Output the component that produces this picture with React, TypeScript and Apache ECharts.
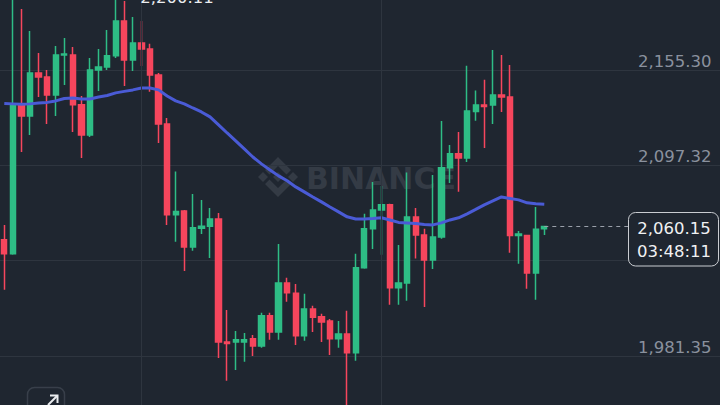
import React, { useEffect, useRef } from "react";
import * as echarts from "echarts";

const BG = "#1f2630";
const UP = "#2ebd85";
const DOWN = "#f6465d";
const GRIDLINE = "#2e353f";
const FONT = "'DejaVu Sans', Inter, sans-serif";

// [open, close, low, high]
const candles: number[][] = [
  [2052.0, 2043.5, 2021.6, 2061.1],
  [2043.5, 2134.1, 2043.0, 2210.0],
  [2134.1, 2127.4, 2105.5, 2192.4],
  [2127.4, 2153.5, 2115.8, 2179.1],
  [2153.5, 2151.1, 2138.9, 2165.7],
  [2151.1, 2140.1, 2122.5, 2155.3],
  [2140.1, 2164.5, 2127.4, 2169.9],
  [2164.5, 2165.1, 2146.2, 2174.8],
  [2164.5, 2134.1, 2117.6, 2169.3],
  [2134.1, 2115.8, 2101.8, 2139.5],
  [2115.8, 2155.3, 2114.6, 2162.6],
  [2155.3, 2157.2, 2142.6, 2168.1],
  [2157.2, 2163.9, 2155.3, 2179.7],
  [2163.9, 2185.1, 2162.6, 2200.1],
  [2185.1, 2161.4, 2145.6, 2197.3],
  [2161.4, 2171.8, 2154.7, 2187.6],
  [2171.8, 2168.1, 2157.8, 2185.1],
  [2168.1, 2152.3, 2142.0, 2171.2],
  [2152.3, 2122.5, 2110.9, 2153.5],
  [2122.5, 2067.2, 2061.1, 2126.1],
  [2067.2, 2069.2, 2050.8, 2093.6],
  [2069.6, 2047.7, 2033.1, 2070.2],
  [2047.7, 2059.3, 2045.3, 2079.9],
  [2059.0, 2060.2, 2055.6, 2076.3],
  [2060.2, 2064.7, 2041.0, 2071.4],
  [2064.7, 1989.9, 1980.2, 2068.4],
  [1989.9, 1989.0, 1966.3, 2009.4],
  [1989.9, 1991.2, 1972.9, 1996.6],
  [1989.9, 1991.2, 1977.8, 1995.4],
  [1991.8, 1987.5, 1981.4, 1994.2],
  [1987.5, 2005.8, 1986.3, 2007.6],
  [2005.8, 1996.0, 1991.2, 2007.6],
  [1996.0, 2025.8, 1991.2, 2049.5],
  [2025.8, 2019.8, 2014.3, 2028.9],
  [2019.5, 1993.6, 1988.1, 2025.2],
  [1993.6, 2010.0, 1990.6, 2019.2],
  [2010.0, 2004.9, 1996.0, 2011.9],
  [2005.2, 2002.1, 1989.9, 2007.0],
  [2002.7, 1991.8, 1982.0, 2003.9],
  [1991.8, 1994.8, 1986.3, 2002.7],
  [1994.8, 1983.3, 1948.6, 2008.8],
  [1983.3, 2035.0, 1978.4, 2043.5],
  [2035.0, 2058.7, 2034.4, 2067.8],
  [2058.7, 2070.2, 2046.5, 2087.2],
  [2070.2, 2073.3, 2042.9, 2084.8],
  [2073.3, 2022.8, 2012.5, 2073.9],
  [2022.8, 2025.8, 2012.5, 2048.9],
  [2025.8, 2065.9, 2015.0, 2092.9],
  [2065.9, 2055.0, 2040.6, 2071.4],
  [2055.0, 2039.8, 2011.2, 2058.7],
  [2039.8, 2053.8, 2034.3, 2091.5],
  [2053.8, 2095.8, 2052.6, 2124.3],
  [2095.8, 2104.3, 2086.6, 2109.7],
  [2104.3, 2101.8, 2081.2, 2117.6],
  [2101.8, 2130.4, 2099.4, 2157.9],
  [2130.1, 2134.0, 2124.5, 2142.8],
  [2134.0, 2133.1, 2107.9, 2149.3],
  [2134.0, 2140.1, 2122.5, 2167.5],
  [2140.1, 2138.9, 2129.8, 2164.5],
  [2138.9, 2054.7, 2044.1, 2158.4],
  [2054.7, 2055.6, 2037.4, 2057.4],
  [2054.7, 2031.9, 2022.2, 2055.0],
  [2031.9, 2058.4, 2015.5, 2072.0],
  [2058.7, 2060.15, 2055.0, 2060.15],
];

const maLine: number[] = [
  2135.0, 2134.7, 2134.4, 2134.7, 2135.3, 2135.6, 2136.5, 2138.0, 2138.3, 2137.7,
  2137.7, 2138.9, 2139.8, 2141.4, 2142.3, 2143.2, 2144.4, 2144.4, 2143.2, 2139.5,
  2136.5, 2134.7, 2132.2, 2129.8, 2126.8, 2121.9, 2117.0, 2112.2, 2107.3, 2102.4,
  2098.2, 2094.5, 2090.9, 2087.9, 2084.2, 2081.2, 2078.1, 2075.1, 2072.0, 2069.0,
  2066.0, 2064.7, 2064.7, 2065.0, 2065.4, 2064.1, 2062.6, 2062.3, 2062.0, 2061.4,
  2061.1, 2062.3, 2064.1, 2065.4, 2067.8, 2070.5, 2073.3, 2075.7, 2078.1, 2077.2,
  2076.3, 2074.5, 2073.9, 2073.6,
];

const gridValues = [2155.3, 2097.32, 2039.33, 1981.35];
const priceLabels = ["2,155.30", "2,097.32", "", "1,981.35"];
const verticalLineSlots = [16, 44];
const lastPrice = 2060.15;
const lastPriceLabel = "2,060.15";
const countdownLabel = "03:48:11";
const highLabel = "2,200.11";
const watermark = "BINANCE";
const slotCount = 84;
const categories = Array.from({ length: slotCount }, (_, i) => String(i));

export default function App() {
  const ref = useRef<HTMLDivElement>(null);
  useEffect(() => {
    document.body.style.margin = "0";
    document.body.style.background = BG;
    const chart = echarts.init(ref.current!, null, { renderer: "svg" });
    const logo = "#343b45";
    chart.setOption({
      animation: false,
      backgroundColor: BG,
      grid: { left: -1.6, top: 0, width: 721.6, height: 405, containLabel: false },
      xAxis: {
        type: "category",
        data: categories,
        boundaryGap: true,
        axisLine: { show: false },
        axisTick: { show: false },
        axisLabel: { show: false },
        splitLine: { show: false },
      },
      yAxis: {
        type: "value",
        position: "right",
        min: 1951.55,
        max: 2197.88,
        scale: true,
        axisLine: { show: false },
        axisTick: { show: false, customValues: gridValues },
        splitLine: { show: true, lineStyle: { color: GRIDLINE, width: 1 } },
        axisLabel: {
          inside: true,
          customValues: gridValues,
          margin: 8.5,
          color: "#8a919e",
          fontFamily: FONT,
          fontSize: 16.5,
          fontWeight: 400,
          verticalAlign: "bottom",
          lineHeight: 18,
          formatter: (v: number) => priceLabels[gridValues.findIndex((g) => Math.abs(g - v) < 0.01)] ?? "",
        },
      },
      graphic: [
        {
          type: "group",
          x: 278,
          y: 177,
          z: 0,
          silent: true,
          children: [
            { type: "polygon", shape: { points: [[0, -20], [13, -7], [8.5, -2.5], [0, -11], [-8.5, -2.5], [-13, -7]] }, style: { fill: logo } },
            { type: "polygon", shape: { points: [[0, 20], [13, 7], [8.5, 2.5], [0, 11], [-8.5, 2.5], [-13, 7]] }, style: { fill: logo } },
            { type: "polygon", shape: { points: [[0, -5], [5, 0], [0, 5], [-5, 0]] }, style: { fill: logo } },
            { type: "polygon", shape: { points: [[-15, -5], [-10, 0], [-15, 5], [-20, 0]] }, style: { fill: logo } },
            { type: "polygon", shape: { points: [[15, -5], [20, 0], [15, 5], [10, 0]] }, style: { fill: logo } },
          ],
        },
        {
          type: "text",
          x: 306,
          y: 178,
          z: 0,
          silent: true,
          style: { text: watermark, fill: logo, font: `700 30px ${FONT}`, verticalAlign: "middle", align: "left" },
        },
        {
          type: "text",
          x: 177,
          y: -3,
          z: 50,
          style: { text: highLabel, fill: "#eaecef", font: `400 16.5px ${FONT}`, align: "center", verticalAlign: "middle" },
        },
        {
          type: "rect",
          z: 60,
          shape: { x: 628.5, y: 212.5, width: 90, height: 53.5, r: 7 },
          style: { fill: BG, stroke: "#c9ccd1", lineWidth: 1 },
        },
        {
          type: "text",
          x: 674,
          y: 228,
          z: 61,
          style: { text: lastPriceLabel, fill: "#f0f1f3", font: `400 16.5px ${FONT}`, align: "center", verticalAlign: "middle" },
        },
        {
          type: "text",
          x: 674,
          y: 251,
          z: 61,
          style: { text: countdownLabel, fill: "#f0f1f3", font: `400 16.5px ${FONT}`, align: "center", verticalAlign: "middle" },
        },
        {
          type: "rect",
          z: 60,
          shape: { x: 27.5, y: 387.5, width: 37, height: 30, r: 7 },
          style: { fill: BG, stroke: "#383f4a", lineWidth: 1.5 },
        },
        {
          type: "polyline",
          z: 61,
          shape: { points: [[48, 405], [57, 396]] },
          style: { stroke: "#eaecef", lineWidth: 2, fill: "none" },
        },
        {
          type: "polyline",
          z: 61,
          shape: { points: [[50, 395.5], [57.5, 395.5], [57.5, 403]] },
          style: { stroke: "#eaecef", lineWidth: 2, fill: "none" },
        },
      ],
      series: [
        {
          type: "line",
          z: 1,
          data: [],
          silent: true,
          markLine: {
            silent: true,
            symbol: "none",
            label: { show: false },
            lineStyle: { color: GRIDLINE, width: 1, type: "solid" },
            data: verticalLineSlots.map((i) => ({ xAxis: i })),
          },
        },
        {
          type: "candlestick",
          z: 3,
          barWidth: 5.8,
          silent: true,
          data: candles,
          itemStyle: {
            color: UP,
            color0: DOWN,
            borderColor: UP,
            borderColor0: DOWN,
            borderWidth: 1.5,
          },
          markLine: {
            silent: true,
            symbol: "none",
            label: { show: false },
            lineStyle: { color: "#9aa0aa", width: 1, type: [4, 4] },
            data: [[{ coord: [63, lastPrice] }, { coord: [73, lastPrice] }]],
          },
        },
        {
          type: "line",
          z: 4,
          data: maLine,
          silent: true,
          showSymbol: false,
          smooth: false,
          lineStyle: { color: "#4a5bd6", width: 3 },
        },
      ],
    });
    return () => chart.dispose();
  }, []);
  return <div ref={ref} style={{ width: 720, height: 405, overflow: "hidden" }} />;
}
